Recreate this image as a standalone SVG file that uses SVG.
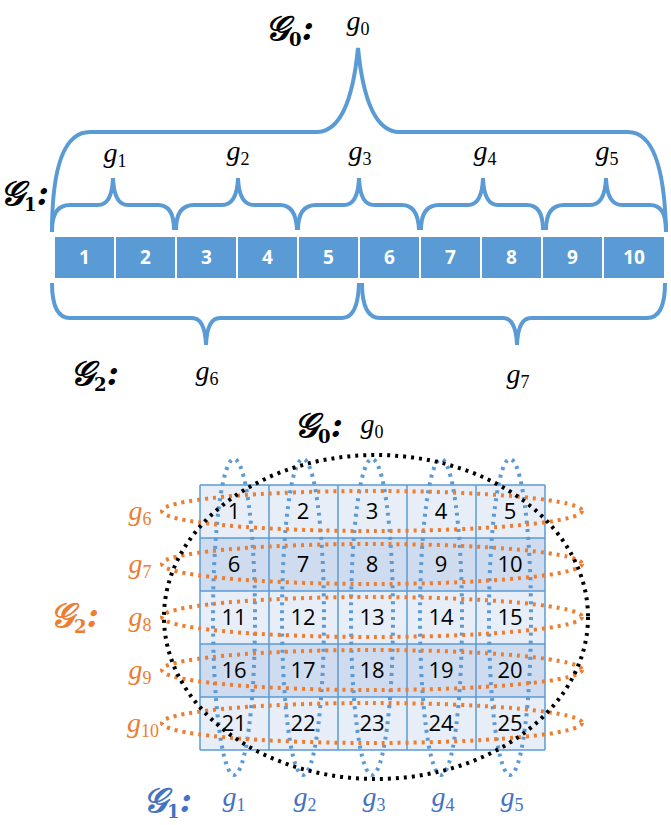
<svg xmlns="http://www.w3.org/2000/svg" width="671" height="825" viewBox="0 0 671 825">
<style>
.br{fill:none;stroke:#5b9bd5;stroke-width:4}
.bx{fill:#5b9bd5;stroke:#fff;stroke-width:2}
.bt{fill:#fff;font-family:"Open Sans","Liberation Sans",sans-serif;font-size:19px;font-weight:bold;text-anchor:middle}
.m{font-family:"Liberation Serif","DejaVu Serif",serif;font-style:italic;font-size:28px;text-anchor:middle}
.s{font-size:18px;font-style:normal}
.G{font-family:"DejaVu Serif","Liberation Serif",serif;font-style:italic;font-weight:bold;font-size:34px}
.ct{font-family:"Open Sans","Liberation Sans",sans-serif;font-size:22px;text-anchor:middle;fill:#000}
.cl{stroke:#5b9bd5;stroke-width:1.5}
.dk{fill:none;stroke:#000;stroke-width:4;stroke-dasharray:3 5}
.db{fill:none;stroke:#5b9bd5;stroke-width:4;stroke-dasharray:3 5}
.do{fill:none;stroke:#ed7d31;stroke-width:4;stroke-dasharray:3 5}
</style>
<g id="top-labels">
<text class="G" x="265" y="40">𝒢<tspan class="s" dy="6">0</tspan><tspan dy="-6">:</tspan></text>
<text class="m" x="358" y="30">g<tspan class="s" dy="5">0</tspan></text>
<text class="G" x="0" y="205">𝒢<tspan class="s" dy="6">1</tspan><tspan dy="-6">:</tspan></text>
<text class="m" x="115" y="162">g<tspan class="s" dy="5">1</tspan></text>
<text class="m" x="238" y="160">g<tspan class="s" dy="5">2</tspan></text>
<text class="m" x="360" y="160">g<tspan class="s" dy="5">3</tspan></text>
<text class="m" x="485" y="160">g<tspan class="s" dy="5">4</tspan></text>
<text class="m" x="607" y="160">g<tspan class="s" dy="5">5</tspan></text>
<text class="G" x="70" y="385">𝒢<tspan class="s" dy="6">2</tspan><tspan dy="-6">:</tspan></text>
<text class="m" x="207" y="380">g<tspan class="s" dy="5">6</tspan></text>
<text class="m" x="518" y="383">g<tspan class="s" dy="5">7</tspan></text>
</g>
<g id="braces">
<path class="br" d="M52 232 Q52 132 90 132 L318 132 Q350 130 358 48 Q366 130 398 132 L628 132 Q664 132 666 232"/>
<path class="br" d="M52 230 Q52 205 70 205 L98 205 Q112 205 113 178 Q114 205 128 205 L158 205 Q174 205 174 230"/>
<path class="br" d="M176 230 Q176 205 194 205 L222 205 Q237 205 238 178 Q239 205 254 205 L280 205 Q296 205 297 230"/>
<path class="br" d="M298 230 Q298 205 316 205 L344 205 Q358 205 359 178 Q360 205 374 205 L402 205 Q418 205 419 230"/>
<path class="br" d="M421 230 Q421 205 439 205 L468 205 Q482 205 483 178 Q484 205 498 205 L527 205 Q543 205 543 230"/>
<path class="br" d="M546 230 Q546 205 564 205 L590 205 Q605 205 606 178 Q607 205 622 205 L650 205 Q666 205 666 230"/>
<path class="br" d="M52 283 Q52 318 70 318 L192 318 Q205 318 206 345 Q207 318 220 318 L342 318 Q358 318 359 283"/>
<path class="br" d="M362 283 Q362 318 380 318 L503 318 Q516 318 517 345 Q518 318 531 318 L647 318 Q665 318 665 283"/>
</g>
<g id="row">
<rect class="bx" x="54" y="236" width="61" height="43"/><text class="bt" x="84.5" y="264">1</text>
<rect class="bx" x="115" y="236" width="61" height="43"/><text class="bt" x="145.5" y="264">2</text>
<rect class="bx" x="176" y="236" width="61" height="43"/><text class="bt" x="206.5" y="264">3</text>
<rect class="bx" x="237" y="236" width="61" height="43"/><text class="bt" x="267.5" y="264">4</text>
<rect class="bx" x="298" y="236" width="61" height="43"/><text class="bt" x="328.5" y="264">5</text>
<rect class="bx" x="359" y="236" width="61" height="43"/><text class="bt" x="389.5" y="264">6</text>
<rect class="bx" x="420" y="236" width="61" height="43"/><text class="bt" x="450.5" y="264">7</text>
<rect class="bx" x="481" y="236" width="61" height="43"/><text class="bt" x="511.5" y="264">8</text>
<rect class="bx" x="542" y="236" width="61" height="43"/><text class="bt" x="572.5" y="264">9</text>
<rect class="bx" x="603" y="236" width="62" height="43"/><text class="bt" x="634" y="264">10</text>
</g>
<g id="grid">
<rect x="200" y="485" width="345" height="265" fill="#e7eef8"/>
<rect x="200" y="538" width="345" height="53" fill="#cfdcef"/>
<rect x="200" y="644" width="345" height="53" fill="#cfdcef"/>
<g class="cl">
<line x1="200" y1="485" x2="545" y2="485"/><line x1="200" y1="538" x2="545" y2="538"/><line x1="200" y1="591" x2="545" y2="591"/><line x1="200" y1="644" x2="545" y2="644"/><line x1="200" y1="697" x2="545" y2="697"/><line x1="200" y1="750" x2="545" y2="750"/>
<line x1="200" y1="485" x2="200" y2="750"/><line x1="269" y1="485" x2="269" y2="750"/><line x1="338" y1="485" x2="338" y2="750"/><line x1="407" y1="485" x2="407" y2="750"/><line x1="476" y1="485" x2="476" y2="750"/><line x1="545" y1="485" x2="545" y2="750"/>
</g>
<g>
<text class="ct" x="234" y="519">1</text><text class="ct" x="303" y="519">2</text><text class="ct" x="372" y="519">3</text><text class="ct" x="441" y="519">4</text><text class="ct" x="510" y="519">5</text>
<text class="ct" x="234" y="572">6</text><text class="ct" x="303" y="572">7</text><text class="ct" x="372" y="572">8</text><text class="ct" x="441" y="572">9</text><text class="ct" x="510" y="572">10</text>
<text class="ct" x="234" y="625">11</text><text class="ct" x="303" y="625">12</text><text class="ct" x="372" y="625">13</text><text class="ct" x="441" y="625">14</text><text class="ct" x="510" y="625">15</text>
<text class="ct" x="234" y="678">16</text><text class="ct" x="303" y="678">17</text><text class="ct" x="372" y="678">18</text><text class="ct" x="441" y="678">19</text><text class="ct" x="510" y="678">20</text>
<text class="ct" x="234" y="731">21</text><text class="ct" x="303" y="731">22</text><text class="ct" x="372" y="731">23</text><text class="ct" x="441" y="731">24</text><text class="ct" x="510" y="731">25</text>
</g>
</g>
<g id="groups">
<ellipse class="db" cx="234" cy="617" rx="21" ry="158"/>
<ellipse class="db" cx="303" cy="617" rx="21" ry="158"/>
<ellipse class="db" cx="372" cy="617" rx="21" ry="158"/>
<ellipse class="db" cx="441" cy="617" rx="21" ry="158"/>
<ellipse class="db" cx="510" cy="617" rx="21" ry="158"/>
<ellipse class="do" cx="372" cy="511" rx="210" ry="20"/>
<ellipse class="do" cx="372" cy="564" rx="210" ry="20"/>
<ellipse class="do" cx="372" cy="617" rx="210" ry="20"/>
<ellipse class="do" cx="372" cy="670" rx="210" ry="20"/>
<ellipse class="do" cx="372" cy="723" rx="210" ry="20"/>
<ellipse class="dk" cx="376" cy="617" rx="212" ry="162"/>
</g>
<g id="grid-labels">
<text class="G" x="294" y="437">𝒢<tspan class="s" dy="6">0</tspan><tspan dy="-6">:</tspan></text>
<text class="m" x="372" y="433">g<tspan class="s" dy="5">0</tspan></text>
<g fill="#ed7d31">
<text class="G" x="50" y="627" fill="#ed7d31">𝒢<tspan class="s" dy="6">2</tspan><tspan dy="-6">:</tspan></text>
<text class="m" x="140" y="520">g<tspan class="s" dy="5">6</tspan></text>
<text class="m" x="140" y="573">g<tspan class="s" dy="5">7</tspan></text>
<text class="m" x="140" y="626">g<tspan class="s" dy="5">8</tspan></text>
<text class="m" x="140" y="679">g<tspan class="s" dy="5">9</tspan></text>
<text class="m" x="143" y="732">g<tspan class="s" dy="5">10</tspan></text>
</g>
<g fill="#4472c4">
<text class="G" x="143" y="812" fill="#4472c4">𝒢<tspan class="s" dy="6">1</tspan><tspan dy="-6">:</tspan></text>
<text class="m" x="234" y="806">g<tspan class="s" dy="5">1</tspan></text>
<text class="m" x="305" y="806">g<tspan class="s" dy="5">2</tspan></text>
<text class="m" x="374" y="806">g<tspan class="s" dy="5">3</tspan></text>
<text class="m" x="443" y="806">g<tspan class="s" dy="5">4</tspan></text>
<text class="m" x="512" y="806">g<tspan class="s" dy="5">5</tspan></text>
</g>
</g>
</svg>
